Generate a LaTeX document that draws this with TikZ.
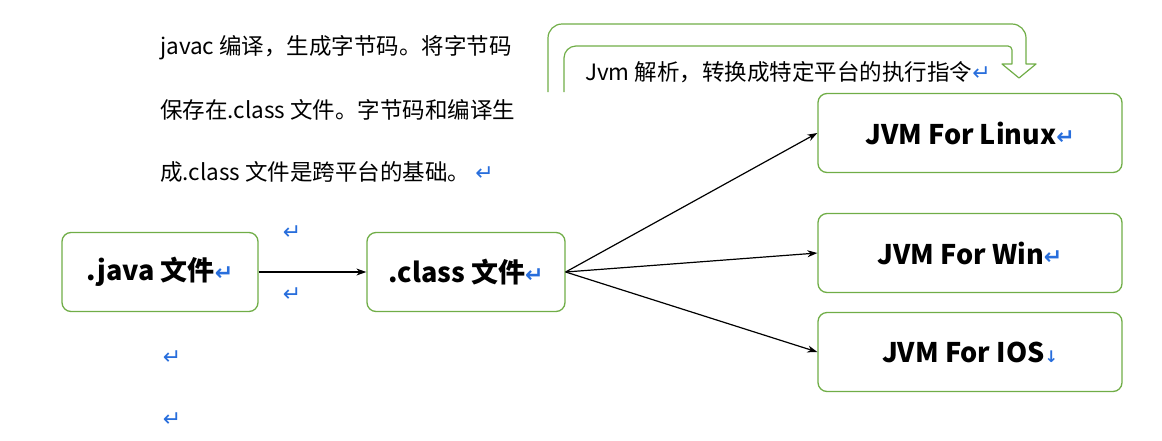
\documentclass[tikz,border=0pt]{standalone}
\usepackage{fontspec}
\setmainfont{Noto Sans CJK SC}
\newfontfamily\dv{DejaVu Sans}
\usetikzlibrary{arrows.meta}
\definecolor{gr}{RGB}{112,173,71}
\definecolor{pm}{RGB}{40,110,220}
\newcommand{\pmk}{{\dv\color{pm}\fontsize{22}{22}\selectfont ↵}}
\begin{document}
\begin{tikzpicture}[x=1pt,y=-1pt,
  box/.style={draw=gr,line width=1.3pt,rounded corners=9pt},
  lbl/.style={font=\fontsize{27}{27}\selectfont\bfseries},
  txt/.style={font=\fontsize{22.5}{22.5}\selectfont,anchor=west,inner sep=0},
  arr/.style={-{Stealth[length=10pt,width=7pt]},line width=1.2pt}]
\useasboundingbox (0,0) rectangle (1162,440);
\node[box,minimum width=196pt,minimum height=79pt] (java) at (160,272) {};
\node[lbl] at (160,272) {.java 文件\pmk};
\node[box,minimum width=198pt,minimum height=79pt] (cls) at (466,272) {};
\node[lbl] at (466,272) {.class 文件\pmk};
\node[box,minimum width=304pt,minimum height=79pt] (lin) at (970,133) {};
\node[lbl] at (970,133) {JVM For Linux\pmk};
\node[box,minimum width=304pt,minimum height=79pt] (win) at (970,253) {};
\node[lbl] at (970,253) {JVM For Win\pmk};
\node[box,minimum width=304pt,minimum height=79pt] (ios) at (970,352) {};
\node[lbl] at (970,352) {JVM For IOS{\dv\color{pm}\fontsize{16}{16}\selectfont ↓}};
\draw[arr] (java.east) -- (cls.west);
\draw[arr] (cls.east) -- (lin.west);
\draw[arr] (cls.east) -- (win.west);
\draw[arr] (cls.east) -- (ios.west);
\node[txt] (t1) at (160,48) {javac 编译，生成字节码。将字节码};
\node[txt] (t2) at (160,110) {保存在.class 文件。字节码和编译生};
\node[txt] (t3) at (160,172) {成.class 文件是跨平台的基础。 \pmk};
\node[inner sep=0] (p1) at (292,233) {\pmk};
\node[inner sep=0] (p2) at (292,295) {\pmk};
\node[inner sep=0] (p3) at (172,358) {\pmk};
\node[inner sep=0] (p4) at (172,420) {\pmk};
\draw[gr,line width=1.2pt,line join=round,rounded corners=14pt]
  (548,92) -- (548,24) -- (1026,24) [sharp corners] -- (1026,64) -- (1036,64) -- (1019,78)
  -- (1002,64) -- (1012,64) [rounded corners=4pt] -- (1012,46) [rounded corners=12pt] -- (564,46) -- (564,92);
\node[txt] (t4) at (585,72) {Jvm 解析，转换成特定平台的执行指令\pmk};
\end{tikzpicture}
\end{document}
